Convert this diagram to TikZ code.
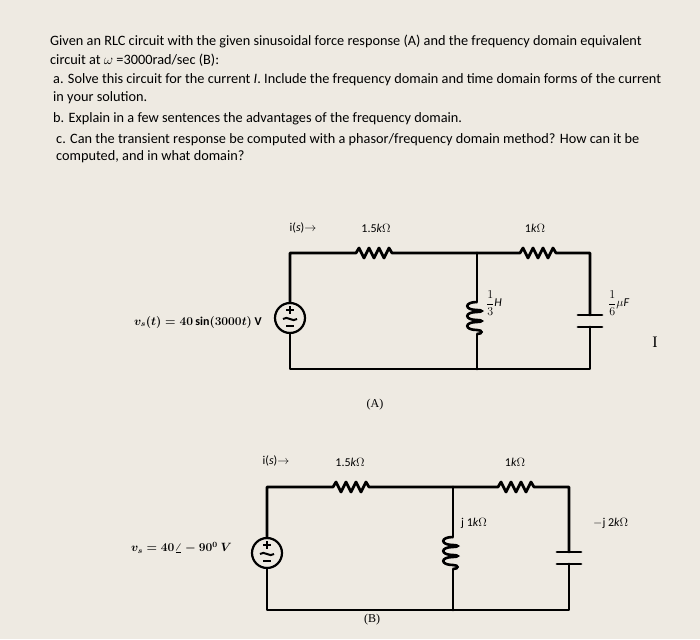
\documentclass[tikz,border=0pt]{standalone}
\usepackage{amsmath}
\usepackage{fontspec}
\setmainfont{Carlito}
\newfontfamily\serf{Liberation Serif}
\begin{document}
\begin{tikzpicture}[x=1pt,y=-1pt,
  wire/.style={line width=2.8pt,line join=round,line cap=round},
  txt/.style={anchor=west,inner sep=0,font=\fontsize{14.3}{16}\selectfont},
  lab/.style={inner sep=0,font=\fontsize{12}{14}\selectfont}]
\fill[fill={rgb,255:red,238;green,234;blue,226}] (0,0) rectangle (700,639);
\useasboundingbox (0,0) rectangle (700,639);
% header text
\node[txt] (t1) at (50,42) {Given an RLC circuit with the given sinusoidal force response (A) and the frequency domain equivalent};
\node[txt] (t2) at (50,60) {circuit at $\omega$ =3000rad/sec (B):};
\node[txt] (t3) at (53,80) {a. Solve this circuit for the current \textit{I}. Include the frequency domain and time domain forms of the current};
\node[txt] (t4) at (53,98) {in your solution.};
\node[txt] (t5) at (53,119) {b. Explain in a few sentences the advantages of the frequency domain.};
\node[txt] (t6) at (56,140) {c. Can the transient response be computed with a phasor/frequency domain method? How can it be};
\node[txt] (t7) at (56,157) {computed, and in what domain?};
% ---------- circuit template
\newcommand{\rlccirc}[9]{% #1 left x, #2 right x, #3 junction x, #4 top y, #5 bottom y, #6 src y, #7 R1 start, #8 R2 start, #9 cap y
 \coordinate (TL) at (#1,#4); \coordinate (BL) at (#1,#5);
 \draw[wire] (#1,#6-15) -- (TL) -- (#7,#4)
   -- ++(3,-5) -- ++(5,10) -- ++(5,-10) -- ++(5,10) -- ++(5,-10) -- ++(5,10) -- ++(5,-10) -- ++(3,5)
   -- (#8,#4) -- ++(3,-5) -- ++(5,10) -- ++(5,-10) -- ++(5,10) -- ++(5,-10) -- ++(5,10) -- ++(5,-10) -- ++(3,5)
   -- (#2,#4) -- (#2,#9-6);
 \draw[wire] (#2-12,#9-6) -- (#2+12,#9-6);
 \draw[wire] (#2-12,#9+6) -- (#2+12,#9+6);
 \draw[wire] (#2,#9+6) -- (#2,#5) -- (BL) -- (#1,#6+15);
 \draw[line width=2.2pt] (#1,#6) circle (15);
 \draw[line width=2pt] (#1-4,#6-8) -- (#1+4,#6-8) (#1,#6-12) -- (#1,#6-4);
 \draw[line width=2pt] (#1-7,#6+1) .. controls (#1-3,#6-3) and (#1+3,#6+5) .. (#1+7,#6+1);
 \draw[line width=2pt] (#1-4,#6+8) -- (#1+4,#6+8);
 \draw[wire] (#3,#4) -- (#3,#6-16);
 \draw[line width=2.6pt] (#3,#6-16) .. controls (#3-13,#6-16) and (#3-13,#6-8) .. (#3,#6-8)
   .. controls (#3+6,#6-8) and (#3+6,#6-6) .. (#3,#6-6)
   .. controls (#3-13,#6-6) and (#3-13,#6+2) .. (#3,#6+2)
   .. controls (#3+6,#6+2) and (#3+6,#6+4) .. (#3,#6+4)
   .. controls (#3-13,#6+4) and (#3-13,#6+12) .. (#3,#6+12)
   .. controls (#3+6,#6+12) and (#3+6,#6+16) .. (#3,#6+16);
 \draw[wire] (#3,#6+16) -- (#3,#5);
}
% circuit A
\rlccirc{290}{590}{477}{253}{369}{318}{356}{520}{321}
\node[lab] (ia) at (303,228) {i(\textit{s})$\rightarrow$};
\node[lab] (ra) at (376,228) {1.5\textit{k$\Omega$}};
\node[lab] (rb) at (535,228) {1\textit{k$\Omega$}};
\node[lab,anchor=west] (la) at (486,303) {$\dfrac{1}{3}\mathit{H}$};
\node[lab,anchor=west] (ca) at (608,303) {$\dfrac{1}{6}\mu\mathit{F}$};
\node[lab] (cur) at (655,342) {\serf\fontsize{16}{16}\selectfont I};
\node[lab,anchor=east] (va) at (262,322) {$\boldsymbol{v_s(t) = 40\sin(3000t)}$ \textbf{V}};
\node[lab] (A) at (375,405) {\serf (A)};
% circuit B
\rlccirc{267}{569}{453}{487}{610}{553}{333}{498}{558}
\node[lab] (ib) at (276,461) {i(\textit{s})$\rightarrow$};
\node[lab] (rc) at (350,462) {1.5\textit{k$\Omega$}};
\node[lab] (rd) at (515,462) {1\textit{k$\Omega$}};
\node[lab,anchor=west] (lb) at (461,523) {j 1\textit{k$\Omega$}};
\node[lab,anchor=west] (cb) at (593,523) {$-$j 2\textit{k$\Omega$}};
\node[lab,anchor=east] (vb) at (232,548) {$\boldsymbol{v_s = 40\angle - 90^0\ V}$};
\node[lab] (B) at (372,620) {\serf (B)};
\end{tikzpicture}
\end{document}
